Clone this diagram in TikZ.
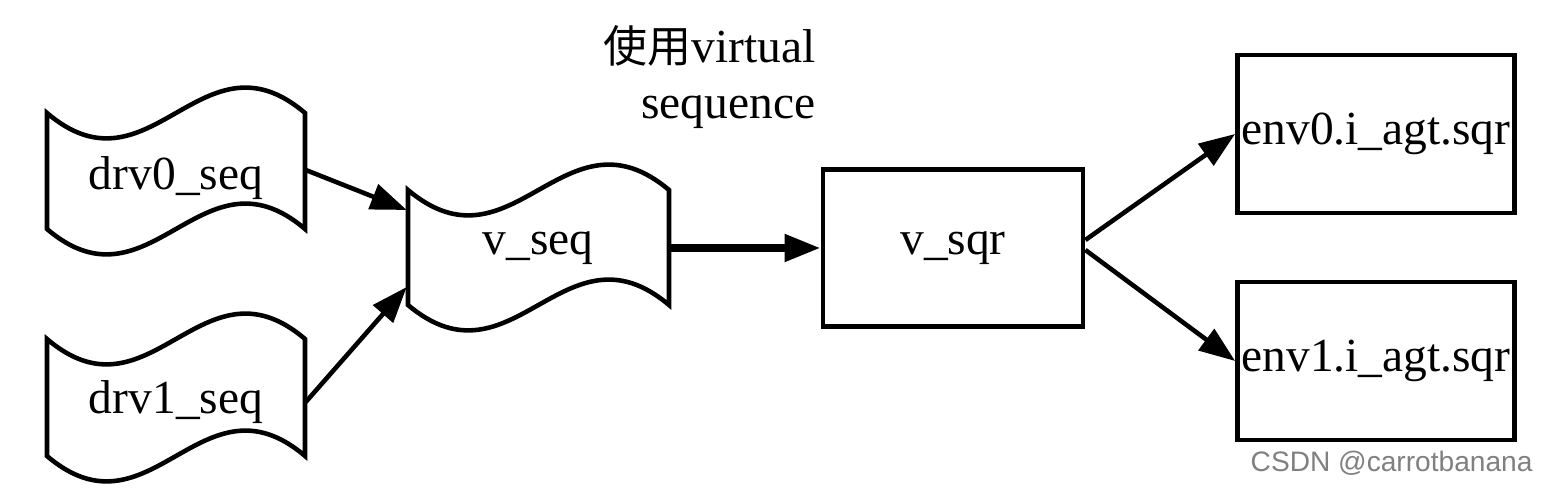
\documentclass[tikz,border=0pt]{standalone}
\usepackage{fontspec}
\setmainfont{Liberation Serif}
\newfontfamily\cjk{Noto Sans CJK SC}
\newfontfamily\wmfont{Liberation Sans}
\usetikzlibrary{arrows.meta,calc}
\newcommand\tapeshape[4]{%
  \pgfmathsetmacro\tw{#3-#1}%
  \pgfmathsetmacro\xa{#1+0.4*\tw}\pgfmathsetmacro\xb{#1+0.6*\tw}%
  \pgfmathsetmacro\ta{#2+88}\pgfmathsetmacro\tb{#2-88}%
  \pgfmathsetmacro\ba{#4+88}\pgfmathsetmacro\bb{#4-88}%
  \draw[line width=1.3pt] (#1,#2) .. controls (\xa,\ta) and (\xb,\tb) .. (#3,#2) -- (#3,#4)
     .. controls (\xb,\bb) and (\xa,\ba) .. (#1,#4) -- cycle;}
\begin{document}
\begin{tikzpicture}[x=0.01cm,y=-0.01cm,
  lbl/.style={font=\fontsize{13.5}{16}\selectfont,inner sep=0pt},
  boxn/.style={draw,line width=1.3pt,lbl},
  arr/.style={line width=1.3pt,-{Triangle[length=0.36cm,width=0.26cm]}}]
\useasboundingbox (0,0) rectangle (1552,492);
\tapeshape{47}{113}{305}{229}
\tapeshape{47}{339}{305}{456}
\tapeshape{408}{190}{669}{305}
\node[lbl,minimum width=2.58cm,minimum height=1.16cm] (d0) at (176,178) {drv0\_seq};
\node[lbl,minimum width=2.58cm,minimum height=1.17cm] (d1) at (176,402) {drv1\_seq};
\node[lbl,minimum width=2.61cm,minimum height=1.15cm] (vs) at (538,248) {v\_seq};
\node[boxn,minimum width=2.6cm,minimum height=1.57cm] (sq) at (953,248) {v\_sqr};
\node[boxn,minimum width=2.77cm,minimum height=1.58cm] (e0) at (1376,134) {env0.i\_agt.sqr};
\node[boxn,minimum width=2.77cm,minimum height=1.58cm] (e1) at (1376,361) {env1.i\_agt.sqr};
\node[lbl,align=right,anchor=north east] (t) at (816,25) {{\cjk\fontsize{12.5}{16}\selectfont 使用}virtual\\sequence};
\draw[arr] ($(d0.east)+(0,-8)$) -- ($(vs.west)+(0,-38)$);
\draw[arr] (d1.east) -- ($(vs.west)+(0,39)$);
\draw[line width=2.2pt,-{Triangle[length=0.36cm,width=0.26cm]}] (vs.east) -- (sq.west);
\draw[arr] ($(sq.east)+(0,-8)$) -- (e0.west);
\draw[arr] ($(sq.east)+(0,2)$) -- (e1.west);
\node[text=gray,font=\wmfont\fontsize{8}{9}\selectfont,anchor=south east] (w) at (1545,488) {CSDN @carrotbanana};
\end{tikzpicture}
\end{document}
